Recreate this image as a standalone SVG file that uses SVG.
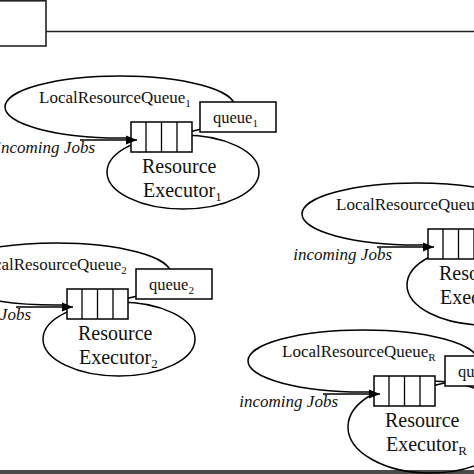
<svg xmlns="http://www.w3.org/2000/svg" width="474" height="474" viewBox="0 0 474 474">
<style>
.ln{fill:none;stroke:#000;stroke-width:1.5}
.bx{fill:#fff;stroke:#000;stroke-width:1.5}
.cell{stroke:#000;stroke-width:1.3}
.t{font-family:"Liberation Serif","Times New Roman",serif;fill:#111}
.lrq{font-size:17px}
.q{font-size:16.5px}
.ex{font-size:20px}
.inc{font-size:17px;font-style:italic}
.s1{font-size:11px}
.s2{font-size:13px}
</style>
<defs>
<marker id="ah" markerUnits="userSpaceOnUse" markerWidth="12" markerHeight="10" refX="11" refY="5" orient="auto">
<path d="M0,0.5 L11,5 L0,9.5 Z" fill="#000"/>
</marker>
<g id="qbox">
<rect class="bx" x="131" y="122" width="61" height="30"/>
<line class="cell" x1="146" y1="122" x2="146" y2="152"/>
<line class="cell" x1="161.5" y1="122" x2="161.5" y2="152"/>
<line class="cell" x1="177" y1="122" x2="177" y2="152"/>
</g>
</defs>
<rect width="474" height="474" fill="#fff"/>
<g id="frame">
<rect x="-1" y="0.8" width="47" height="45.2" fill="none" stroke="#222" stroke-width="1.6"/>
<line x1="46" y1="31.5" x2="474" y2="31.5" stroke="#222" stroke-width="1.6"/>
<rect x="0" y="470" width="474" height="4" fill="#4a4a4a"/>
</g>

<g id="node1">
<ellipse class="ln" cx="120" cy="107" rx="115" ry="31"/>
<ellipse class="ln" cx="183" cy="172" rx="76" ry="37"/>
<use href="#qbox"/>
<rect class="bx" x="200" y="102" width="76" height="30"/>
<text class="t lrq" x="39" y="103">LocalResourceQueue<tspan class="s1" dy="3.5">1</tspan></text>
<text class="t q" x="213" y="123">queue<tspan class="s1" dy="3.5">1</tspan></text>
<text class="t ex" x="142" y="173">Resource</text>
<text class="t ex" x="143" y="197">Executor<tspan class="s2" dy="3.5">1</tspan></text>
<text class="t inc" x="95" y="153" text-anchor="end">incoming Jobs</text>
</g>

<g id="node2" transform="translate(-64,167)">
<ellipse class="ln" cx="120" cy="107" rx="115" ry="31"/>
<ellipse class="ln" cx="183" cy="172" rx="76" ry="37"/>
<use href="#qbox"/>
<rect class="bx" x="200" y="102" width="76" height="30"/>
<text class="t lrq" x="39" y="103">LocalResourceQueue<tspan class="s1" dy="3.5">2</tspan></text>
<text class="t q" x="213" y="123">queue<tspan class="s1" dy="3.5">2</tspan></text>
<text class="t ex" x="142" y="173">Resource</text>
<text class="t ex" x="143" y="197">Executor<tspan class="s2" dy="3.5">2</tspan></text>
<text class="t inc" x="95" y="153" text-anchor="end">incoming Jobs</text>
</g>

<g id="node3" transform="translate(297,107)">
<ellipse class="ln" cx="120" cy="107" rx="115" ry="31"/>
<ellipse class="ln" cx="188" cy="178" rx="78" ry="40"/>
<use href="#qbox"/>
<rect class="bx" x="200" y="102" width="76" height="30"/>
<text class="t lrq" x="39" y="103">LocalResourceQueue</text>
<text class="t ex" x="142" y="173">Resource</text>
<text class="t ex" x="143" y="197">Executor</text>
<text class="t inc" x="95" y="153" text-anchor="end">incoming Jobs</text>
</g>

<g id="node4" transform="translate(243,254)">
<ellipse class="ln" cx="120" cy="107" rx="115" ry="31"/>
<ellipse class="ln" cx="187" cy="173" rx="82" ry="46"/>
<use href="#qbox"/>
<rect class="bx" x="202" y="102" width="76" height="30"/>
<text class="t lrq" x="39" y="103">LocalResourceQueue<tspan class="s1" dy="3.5">R</tspan></text>
<text class="t q" x="215" y="123">queue<tspan class="s1" dy="3.5">R</tspan></text>
<text class="t ex" x="142" y="173">Resource</text>
<text class="t ex" x="143" y="197">Executor<tspan class="s2" dy="3.5">R</tspan></text>
<text class="t inc" x="95" y="153" text-anchor="end">incoming Jobs</text>
</g>

<g id="connectors" stroke="#000" stroke-width="1.4" fill="none">
<line x1="80" y1="140" x2="137" y2="140" marker-end="url(#ah)"/>
<line x1="16" y1="307" x2="73" y2="307" marker-end="url(#ah)"/>
<line x1="377" y1="247" x2="434" y2="247" marker-end="url(#ah)"/>
<line x1="323" y1="394" x2="380" y2="394" marker-end="url(#ah)"/>
</g>
</svg>
